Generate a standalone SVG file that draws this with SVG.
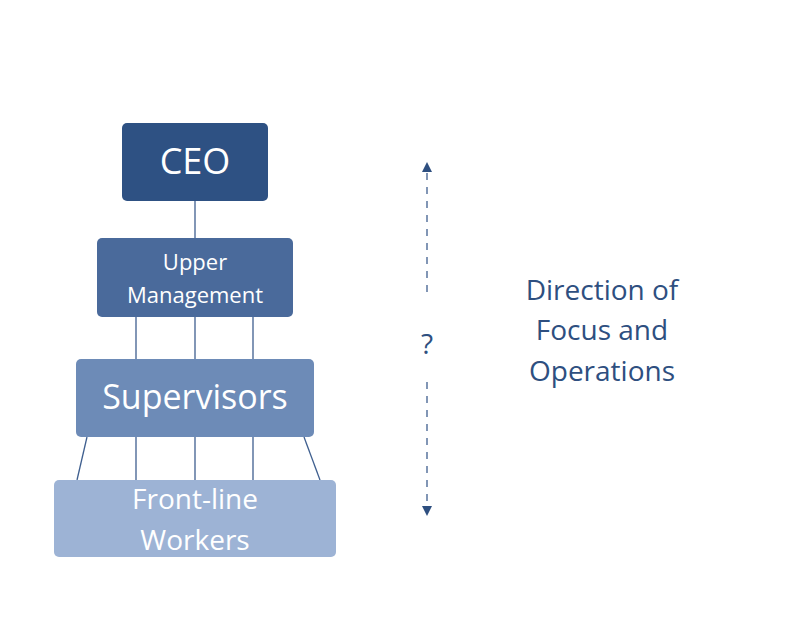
<svg xmlns="http://www.w3.org/2000/svg" width="800" height="640" viewBox="0 0 800 640">
<style>
text{font-family:"Open Sans","Liberation Sans",sans-serif;text-anchor:middle}
.n text{fill:#fff}
.c line{stroke:#3f5f8f;stroke-width:1.3}
.d{stroke:#2e4f80;stroke-width:1.5;stroke-dasharray:7,7}
</style>
<defs><marker id="ah" markerWidth="10" markerHeight="10" refX="5" refY="5" orient="auto" markerUnits="userSpaceOnUse"><path d="M0,0L10,5L0,10z" fill="#2e4f80"/></marker></defs>
<rect width="800" height="640" fill="#fff"/>
<g class="c">
<line x1="195" y1="201" x2="195" y2="238"/>
<line x1="136" y1="317" x2="136" y2="359"/><line x1="195" y1="317" x2="195" y2="359"/><line x1="253" y1="317" x2="253" y2="359"/>
<line x1="87" y1="437" x2="77" y2="480"/><line x1="136" y1="437" x2="136" y2="480"/><line x1="195" y1="437" x2="195" y2="480"/><line x1="253" y1="437" x2="253" y2="480"/><line x1="304" y1="437" x2="320" y2="480"/>
<line class="d" x1="427" y1="292" x2="427" y2="167" marker-end="url(#ah)"/>
<line class="d" x1="427" y1="382" x2="427" y2="511" marker-end="url(#ah)"/>
</g>
<g class="n" id="ceo"><rect x="122" y="123" width="146" height="78" rx="5" fill="#2e5183"/><text x="195" y="174" font-size="36">CEO</text></g>
<g class="n" id="upper"><rect x="97" y="238" width="196" height="79" rx="5" fill="#4a6a9b"/><text x="195" y="270" font-size="22">Upper</text><text x="195" y="303" font-size="22">Management</text></g>
<g class="n" id="sup"><rect x="76" y="359" width="238" height="78" rx="5" fill="#6d8bb7"/><text x="195" y="409" font-size="34">Supervisors</text></g>
<g class="n" id="front"><rect x="54" y="480" width="282" height="77" rx="5" fill="#9db3d5"/><text x="195" y="509" font-size="28">Front-line</text><text x="195" y="550" font-size="28">Workers</text></g>
<g id="label"><text x="427" y="354" font-size="28" fill="#2e4f80">?</text>
<text x="602" y="300" font-size="28" fill="#2e4f80">Direction of</text><text x="602" y="340" font-size="28" fill="#2e4f80">Focus and</text><text x="602" y="381" font-size="28" fill="#2e4f80">Operations</text></g>
</svg>
